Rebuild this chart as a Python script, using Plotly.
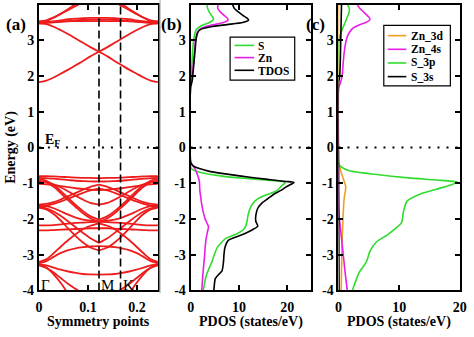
import plotly.graph_objects as go

W, H = 474, 337

# ---------------- band structure ----------------
# k-path: Gamma -> M -> K -> Gamma ; the second half mirrors the first
K_M, K_K, K_END = 0.1226, 0.1666, 0.243
K_HALF = [0.0, 0.015, 0.03, 0.045, 0.06, 0.075, 0.09, 0.105, 0.1226]

# conduction-band branches on Gamma->M (eV)
CB = [
    [1.83, 1.87, 1.96, 2.07, 2.18, 2.30, 2.42, 2.55, 2.68],
    [3.48, 3.45, 3.38, 3.28, 3.17, 3.05, 2.93, 2.81, 2.68],
    [3.47, 3.48, 3.50, 3.52, 3.54, 3.56, 3.57, 3.58, 3.58],
    [3.50, 3.51, 3.53, 3.56, 3.59, 3.61, 3.62, 3.63, 3.63],
    [3.52, 3.52, 3.52, 3.53, 3.53, 3.54, 3.54, 3.54, 3.54],
    [3.50, 3.54, 3.63, 3.75, 3.88, 4.02, 4.15, 4.25, 4.30],
    [3.53, 3.56, 3.64, 3.74, 3.85, 3.96, 4.07, 4.16, 4.20],
]

# valence-band branches on Gamma->M (eV)
VB = [
    [-0.80, -0.80, -0.81, -0.82, -0.83, -0.84, -0.85, -0.85, -0.86],
    [-0.85, -0.86, -0.87, -0.89, -0.91, -0.93, -0.94, -0.95, -0.95],
    [-0.88, -0.93, -1.05, -1.22, -1.42, -1.61, -1.78, -1.92, -2.02],
    [-0.93, -0.98, -1.10, -1.28, -1.48, -1.67, -1.84, -1.98, -2.08],
    [-0.95, -0.97, -1.03, -1.12, -1.23, -1.35, -1.46, -1.55, -1.60],
    [-1.02, -1.03, -1.05, -1.08, -1.11, -1.14, -1.16, -1.18, -1.19],
    [-1.60, -1.58, -1.53, -1.45, -1.36, -1.27, -1.18, -1.10, -1.04],
    [-1.65, -1.63, -1.58, -1.51, -1.43, -1.35, -1.27, -1.20, -1.15],
    [-1.62, -1.64, -1.70, -1.79, -1.88, -1.96, -2.02, -2.05, -2.06],
    [-1.67, -1.70, -1.79, -1.92, -2.07, -2.23, -2.39, -2.54, -2.67],
    [-1.68, -1.73, -1.86, -2.05, -2.27, -2.48, -2.66, -2.80, -2.88],
    [-2.18, -2.18, -2.17, -2.15, -2.13, -2.11, -2.10, -2.09, -2.08],
    [-2.32, -2.32, -2.31, -2.30, -2.29, -2.28, -2.27, -2.26, -2.26],
    [-3.20, -3.13, -2.96, -2.77, -2.59, -2.43, -2.29, -2.19, -2.12],
    [-3.24, -3.18, -3.06, -2.95, -2.87, -2.82, -2.79, -2.77, -2.76],
    [-3.27, -3.30, -3.36, -3.42, -3.47, -3.51, -3.54, -3.55, -3.56],
    [-3.28, -3.36, -3.55, -3.80, -4.10, -4.40, -4.60, -4.70, -4.75],
    [-3.30, -3.37, -3.50, -3.66, -3.82, -3.96, -4.08, -4.15, -4.18],
]

# ---------------- total / partial DOS (panel b) ----------------
S_E = [4.00, 3.90, 3.80, 3.70, 3.62, 3.56, 3.50, 3.44, 3.38, 3.32, 3.25, 3.15, 3.00, 2.70, 2.40, 2.10, 1.90,
       -0.55, -0.62, -0.68, -0.74, -0.80, -0.86, -0.91, -0.95, -0.99, -1.05, -1.14, -1.24, -1.37, -1.50,
       -1.65, -1.88, -2.05, -2.20, -2.30, -2.40, -2.55, -2.80, -3.00, -3.20, -3.45, -3.65, -4.00]
S_DOS = [3.4, 3.5, 3.8, 4.3, 4.7, 4.6, 3.9, 2.8, 1.9, 1.3, 1.0, 0.8, 0.6, 0.4, 0.3, 0.15, 0.0,
         0.0, 0.4, 1.5, 3.5, 6.5, 11.0, 15.5, 19.0, 19.6, 19.0, 18.4, 17.4, 14.8, 13.3,
         12.5, 11.9, 11.7, 11.4, 10.9, 9.8, 7.2, 5.5, 4.9, 4.4, 3.6, 3.1, 2.6]

ZN_E = [4.00, 3.90, 3.80, 3.70, 3.62, 3.56, 3.50, 3.44, 3.38, 3.32, 3.25, 3.15, 3.00, 2.70, 2.40, 2.10, 1.75,
        -0.42, -0.50, -0.60, -0.80, -0.95, -1.20, -1.40, -1.60, -1.80, -2.00, -2.12, -2.22, -2.35, -2.55,
        -2.80, -3.00, -3.30, -3.60, -4.00]
ZN_DOS = [5.7, 5.6, 6.1, 6.9, 7.6, 7.7, 6.8, 4.8, 3.0, 2.0, 1.5, 1.2, 1.0, 0.8, 0.6, 0.4, 0.0,
          0.0, 0.4, 0.9, 1.5, 1.8, 1.9, 2.1, 2.3, 2.6, 3.0, 3.4, 3.7, 3.5, 3.2,
          3.0, 2.9, 2.7, 2.5, 2.3]

TDOS_E = [4.00, 3.90, 3.80, 3.70, 3.62, 3.56, 3.50, 3.44, 3.38, 3.32, 3.25, 3.15, 3.00, 2.70, 2.40, 2.10, 1.85, 1.70,
          -0.40, -0.46, -0.52, -0.59, -0.66, -0.73, -0.80, -0.86, -0.91, -0.95, -0.98, -1.03, -1.10, -1.20,
          -1.30, -1.43, -1.55, -1.70, -1.90, -2.07, -2.20, -2.30, -2.45, -2.60, -2.80, -3.00, -3.20, -3.45,
          -3.58, -3.67, -3.85, -4.00]
TDOS = [8.7, 9.0, 9.8, 10.8, 11.7, 12.0, 10.8, 7.5, 4.2, 2.3, 1.6, 1.3, 1.1, 0.9, 0.7, 0.5, 0.3, 0.0,
        0.0, 0.2, 0.6, 1.8, 3.7, 6.8, 10.5, 14.0, 17.0, 19.8, 21.4, 20.8, 19.8, 18.7,
        17.3, 16.0, 14.8, 13.9, 13.5, 13.5, 13.9, 12.8, 10.5, 7.8, 7.1, 6.9, 6.8, 6.5,
        5.6, 5.1, 4.9, 4.8]

# ---------------- orbital-projected DOS (panel c) ----------------
ZN3D_E = [4.00, 1.70, -0.40, -0.50, -0.60, -0.70, -0.80, -0.90, -1.00, -1.10, -1.20, -1.35, -1.50,
          -1.80, -2.20, -2.60, -3.00, -3.50, -4.00]
ZN3D = [0.0, 0.0, 0.0, 0.15, 0.3, 0.45, 0.65, 0.85, 1.05, 1.2, 1.15, 1.0, 0.9,
        0.8, 0.7, 0.6, 0.55, 0.5, 0.45]

ZN4S_E = [4.00, 3.90, 3.80, 3.72, 3.65, 3.58, 3.50, 3.42, 3.33, 3.22, 3.10, 2.90, 2.60, 2.30, 2.00, 1.80, 1.65,
          -0.40, -1.50, -1.90, -2.30, -2.70, -3.10, -3.50, -4.00]
ZN4S = [3.1, 3.5, 4.1, 4.6, 5.0, 5.2, 4.5, 3.3, 2.3, 1.8, 1.45, 1.15, 0.9, 0.75, 0.6, 0.3, 0.0,
        0.0, 0.0, 0.1, 0.35, 0.6, 0.85, 1.1, 1.45]

S3P_E = [4.00, 3.88, 3.75, 3.63, 3.50, 3.40, 3.30, 3.18, 3.05, 2.90,
         -0.45, -0.55, -0.65, -0.75, -0.85, -0.92, -0.97, -1.05, -1.15, -1.30, -1.50, -1.80, -2.10,
         -2.25, -2.45, -2.65, -2.90, -3.20, -3.50, -3.80, -4.00]
S3P = [1.5, 1.8, 1.7, 1.4, 1.1, 0.85, 0.6, 0.35, 0.15, 0.0,
       0.0, 0.5, 1.8, 6.0, 11.5, 17.0, 19.6, 18.5, 16.5, 13.5, 11.3, 10.7, 10.4,
       9.5, 8.0, 6.2, 5.2, 4.6, 3.4, 2.7, 2.3]

S3S_E = [4.00, 3.60, 3.20, 2.80, 2.40, 2.00, 1.80, -0.40, -4.00]
S3S = [0.5, 0.45, 0.4, 0.35, 0.3, 0.2, 0.0, 0.0, 0.1]

RED = "#ee1c1c"
GREEN = "#2fdc2f"
MAGENTA = "#e81ee8"
ORANGE = "#f0a020"
BLACK = "#000000"
SERIF = "Liberation Serif"


def px(x):
    return x / W


def py(y):
    return 1 - y / H


fig = go.Figure()

# bands: each branch drawn on Gamma->M and mirrored onto M->Gamma
k_right = [K_END - k * (K_END - K_M) / K_M for k in K_HALF]
for branch in CB + VB:
    fig.add_trace(go.Scatter(
        x=K_HALF + [None] + k_right, y=branch + [None] + branch,
        mode="lines", line=dict(color=RED, width=1.8, shape="spline", smoothing=0.8),
        connectgaps=False, showlegend=False, hoverinfo="skip", xaxis="x", yaxis="y"))

for xs, ys, col in [(S_DOS, S_E, GREEN), (ZN_DOS, ZN_E, MAGENTA), (TDOS, TDOS_E, BLACK)]:
    fig.add_trace(go.Scatter(
        x=xs, y=ys, mode="lines", line=dict(color=col, width=1.6, shape="spline", smoothing=0.6),
        showlegend=False, hoverinfo="skip", xaxis="x2", yaxis="y2"))

for xs, ys, col in [(ZN3D, ZN3D_E, ORANGE), (ZN4S, ZN4S_E, MAGENTA), (S3P, S3P_E, GREEN), (S3S, S3S_E, BLACK)]:
    fig.add_trace(go.Scatter(
        x=xs, y=ys, mode="lines", line=dict(color=col, width=1.6, shape="spline", smoothing=0.6),
        showlegend=False, hoverinfo="skip", xaxis="x3", yaxis="y3"))

tick_font = dict(family=SERIF, size=14, color="black", weight="bold")
title_font = dict(family=SERIF, size=14, color="black", weight="bold")
y_domain = [py(297.5), py(4.7)]
y_vals = [-4, -3, -2, -1, 0, 1, 2, 3, 4]
y_text = [str(v) if v >= 0 else "-" + str(-v) for v in y_vals]

axis_common = dict(showline=True, linewidth=2, linecolor="black", mirror="allticks",
                   ticks="inside", ticklen=5, tickwidth=1.5, tickcolor="black",
                   showgrid=False, zeroline=False, tickfont=tick_font, fixedrange=True)
x_extra = dict(ticklabelstandoff=3)

X_DOMAINS = {"a": [px(36.7), px(158.3)], "b": [px(191.7), px(315)], "c": [px(342.7), px(466.7)]}

fig.update_layout(
    width=W, height=H, margin=dict(l=0, r=0, t=0, b=0),
    paper_bgcolor="white", plot_bgcolor="white", showlegend=False,
    xaxis=dict(domain=X_DOMAINS["a"], range=[0, K_END], anchor="y",
               tickvals=[0, 0.1, 0.2], ticktext=["0", "0.1", "0.2"], **axis_common, **x_extra),
    yaxis=dict(domain=y_domain, range=[-4, 4], anchor="x", tickvals=y_vals, ticktext=y_text,
               title=dict(text="Energy (eV)", font=title_font, standoff=4), **axis_common),
    xaxis2=dict(domain=X_DOMAINS["b"], range=[0, 25], anchor="y2",
                tickvals=[0, 10, 20], ticktext=["0", "10", "20"], **axis_common, **x_extra),
    yaxis2=dict(domain=y_domain, range=[-4, 4], anchor="x2", tickvals=y_vals, ticktext=y_text,
                **axis_common),
    xaxis3=dict(domain=X_DOMAINS["c"], range=[0, 20], anchor="y3",
                tickvals=[0, 10, 20], ticktext=["0", "10", "20"], **axis_common, **x_extra),
    yaxis3=dict(domain=y_domain, range=[-4, 4], anchor="x3", tickvals=y_vals, ticktext=y_text,
                **axis_common),
)

shapes = []
# high-symmetry markers
for kx in (K_M, K_K):
    shapes.append(dict(type="line", xref="x", yref="y domain", x0=kx, x1=kx, y0=0, y1=1,
                       line=dict(color="black", width=1.6, dash="8px,4px")))
# Fermi level
for xr, yr in (("x domain", "y"), ("x2 domain", "y2"), ("x3 domain", "y3")):
    shapes.append(dict(type="line", xref=xr, yref=yr, x0=0, x1=1, y0=0, y1=0,
                       line=dict(color="black", width=2, dash="2px,7px")))
# thin grey separator left of panel (b)
shapes.append(dict(type="line", xref="paper", yref="paper", x0=px(160.5), x1=px(160.5),
                   y0=py(300), y1=py(0), line=dict(color="#c4c4c4", width=1.5)))

annotations = []

# x-axis titles under each panel
for key, label in (("a", "Symmetry points"), ("b", "PDOS (states/eV)"), ("c", "PDOS (states/eV)")):
    d0, d1 = X_DOMAINS[key]
    annotations.append(dict(xref="paper", yref="paper", x=(d0 + d1) / 2, y=py(329.5), text=label,
                            showarrow=False, xanchor="center", yanchor="middle", font=title_font))

legend_font = dict(family=SERIF, size=11.5, color="black", weight="bold")


def add_legend(box, x_line, x_text, rows, row_h=None):
    x0, y0, x1, y1 = box
    shapes.append(dict(type="rect", xref="paper", yref="paper", x0=px(x0), x1=px(x1),
                       y0=py(y1), y1=py(y0), line=dict(color="black", width=1.2),
                       fillcolor="white", layer="above"))
    for yc, label, col in rows:
        shapes.append(dict(type="line", xref="paper", yref="paper", x0=px(x_line[0]), x1=px(x_line[1]),
                           y0=py(yc), y1=py(yc), line=dict(color=col, width=1.6)))
        ann = dict(xref="paper", yref="paper", x=px(x_text), y=py(yc), text=label,
                   showarrow=False, xanchor="left", yanchor="middle", borderpad=0, font=legend_font)
        if row_h:
            ann["height"] = row_h
        annotations.append(ann)


add_legend((232, 38, 298, 82), (236.5, 256.5), 259,
           [(46.5, "S", GREEN), (59, "Zn", MAGENTA), (72, "TDOS", BLACK)], row_h=13)
add_legend((389, 26, 457, 88), (393, 412), 416,
           [(36.5, "Zn_3d", ORANGE), (50.5, "Zn_4s", MAGENTA), (64.5, "S_3p", GREEN), (78.5, "S_3s", BLACK)])

panel_font = dict(family=SERIF, size=17, color="black", weight="bold")
for xc, lab in ((13, "(a)"), (172, "(b)"), (319, "(c)")):
    annotations.append(dict(xref="paper", yref="paper", x=px(xc), y=py(25), text=lab,
                            showarrow=False, xanchor="center", yanchor="middle", font=panel_font))

annotations.append(dict(xref="x", yref="y", x=0.008, y=0.2, text="E<sub>F</sub>", showarrow=False,
                        xanchor="left", yanchor="middle",
                        font=dict(family=SERIF, size=14, color="black", weight="bold")))

kp_font = dict(family=SERIF, size=15, color="black")
for kx, lab in ((0.001, "Γ"), (K_M + 0.001, "M"), (K_K + 0.001, "K"), (K_END + 0.011, "Γ")):
    annotations.append(dict(xref="x", yref="y", x=kx, y=-3.86, text=lab, showarrow=False,
                            xanchor="left", yanchor="middle", font=kp_font))

fig.update_layout(shapes=shapes, annotations=annotations)
fig.write_html("out.html")
